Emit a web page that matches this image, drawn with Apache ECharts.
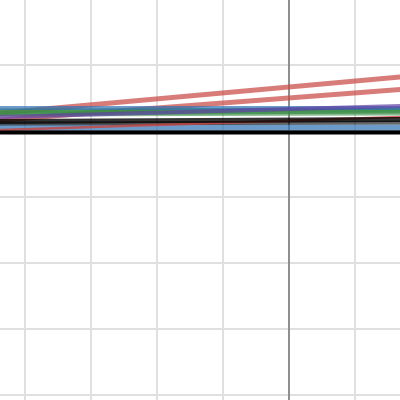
<!DOCTYPE html>
<html><head><meta charset="utf-8">
<script src="https://cdn.jsdelivr.net/npm/echarts@6/dist/echarts.min.js"></script>
<style>html,body{margin:0;padding:0;background:#fff}#c{width:400px;height:400px}</style>
</head><body><div id="c"></div>
<script>
// visible window (grid units)
const xRange = [-4.3788, 1.6818];
const yRange = [-4.0758, 1.9848];
// grid line positions
const gridX = [-4, -3, -2, -1, 1];
const gridY = [-4, -3, -2, -1, 1];
// x positions where each line is sampled (grid units)
const xs = [-5, 2];
// line values at xs
const redA = [0.217, 0.847];
const redB = [0.119, 0.653];
const blueTop = [0.348, 0.348];
const purple = [0.195, 0.388];
const green1 = [0.301, 0.319];
const green2 = [0.270, 0.305];
const greenLight = [0.241, 0.258];
const redThin = [-0.005, 0.222];
const black1 = [0.141, 0.176];
const black2 = [0.112, 0.130];
const blueBottom = [0.053, 0.053];
const blackBase = [-0.022, -0.022];

const lines = [
  {name:'redB', d:redB, c:'#c74440', w:5, o:0.7},
  {name:'redA', d:redA, c:'#c74440', w:5, o:0.7},
  {name:'blueBottom', d:blueBottom, c:'#2d70b3', w:6, o:0.7},
  {name:'black2', d:black2, c:'#000000', w:4, o:0.6},
  {name:'redThin', d:redThin, c:'#c74440', w:2.5, o:0.8},
  {name:'black1', d:black1, c:'#000000', w:5, o:0.8},
  {name:'greenLight', d:greenLight, c:'#388c46', w:3, o:0.6},
  {name:'green2', d:green2, c:'#388c46', w:5, o:0.75},
  {name:'green1', d:green1, c:'#388c46', w:5, o:0.75},
  {name:'blueTop', d:blueTop, c:'#2d70b3', w:4, o:0.7},
  {name:'purple', d:purple, c:'#6042a6', w:4, o:0.7},
  {name:'blackBase', d:blackBase, c:'#000000', w:4, o:1}
];

const chart = echarts.init(document.getElementById('c'), null, {renderer:'canvas'});
const axisCommon = {
  type:'value',
  axisLabel:{show:false}, axisTick:{show:false},
  splitLine:{show:false},
  axisLine:{show:true, onZero:true, lineStyle:{color:'#8f8f8f', width:2}}
};
const gridSeries = {
  type:'line', data:[], silent:true, z:0,
  markLine:{
    silent:true, symbol:['none','none'], animation:false, z:0,
    label:{show:false},
    lineStyle:{color:'#e0e0e0', width:2, type:'solid'},
    emphasis:{disabled:true},
    data: gridX.map(v => ({xAxis:v})).concat(gridY.map(v => ({yAxis:v})))
  }
};
chart.setOption({
  animation:false,
  backgroundColor:'#ffffff',
  grid:{left:0, right:0, top:0, bottom:0},
  xAxis:Object.assign({min:xRange[0], max:xRange[1]}, axisCommon),
  yAxis:Object.assign({min:yRange[0], max:yRange[1]}, axisCommon),
  series: [gridSeries].concat(lines.map(l => ({
    type:'line', name:l.name, showSymbol:false, symbol:'none',
    data: xs.map((x,i) => [x, l.d[i]]),
    lineStyle:{color:l.c, width:l.w, opacity:l.o},
    itemStyle:{color:l.c},
    z:3
  })))
});
</script></body></html>
